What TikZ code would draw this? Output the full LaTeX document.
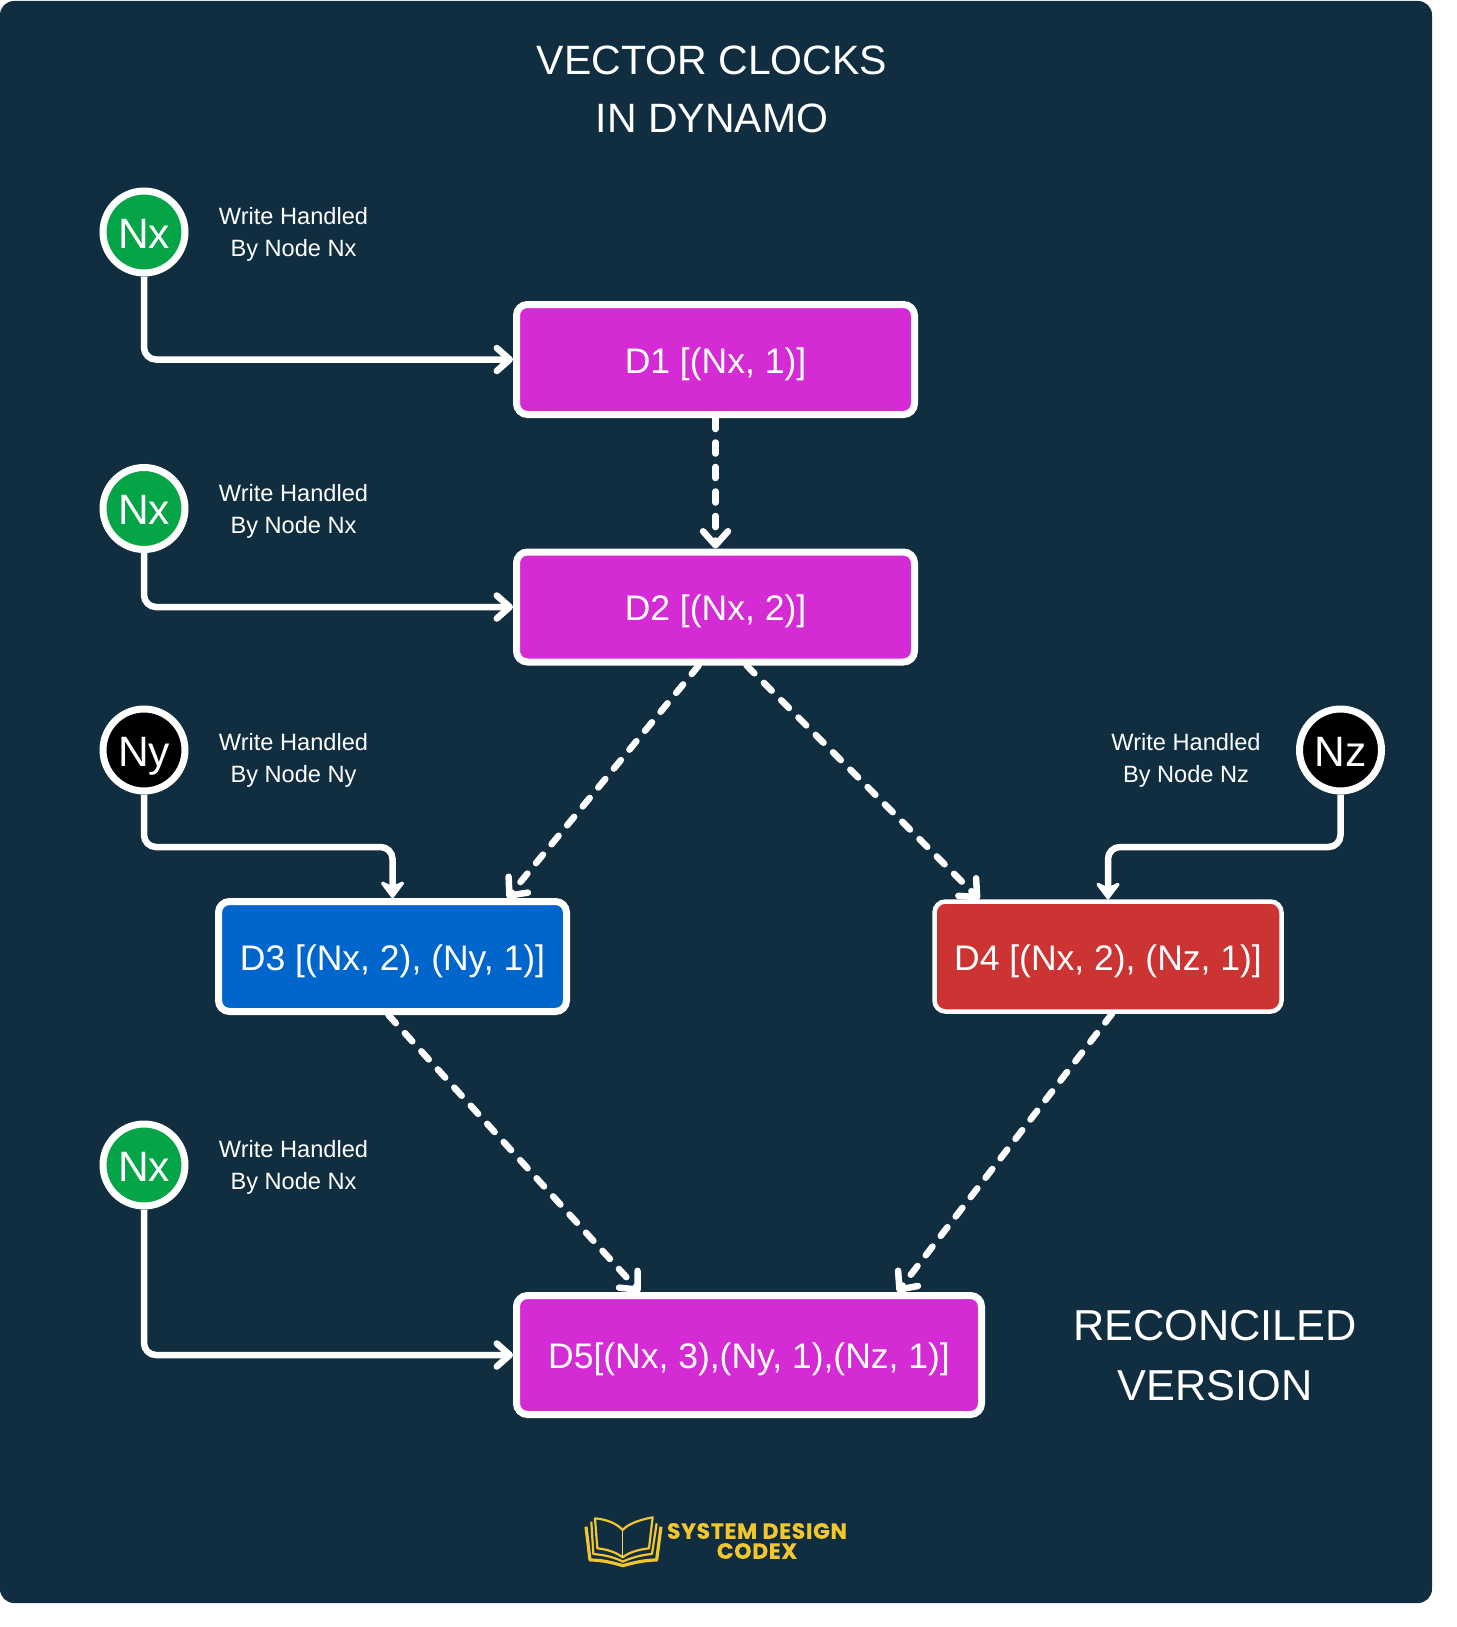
\documentclass[tikz,border=0pt]{standalone}
\usepackage{fontspec}
\setmainfont{Liberation Sans}
\newfontfamily\logofont{Poppins}[LetterSpace=3,BoldFeatures={FakeBold=0.4}]
\usetikzlibrary{arrows.meta}
\definecolor{panelbg}{HTML}{112E41}
\definecolor{writegreen}{HTML}{05A547}
\definecolor{dmagenta}{HTML}{D42BD4}
\definecolor{dblue}{HTML}{0066CC}
\definecolor{dred}{HTML}{CC3333}
\definecolor{logogold}{HTML}{F2C62E}
\tikzset{
	txt/.style={text=white, inner sep=0pt, align=center},
	headtxt/.style={txt, font=\fontsize{41}{58}\selectfont},
	writetxt/.style={txt, font=\fontsize{23.6}{32}\selectfont},
	server/.style={circle, draw=white, line width=7pt, inner sep=0pt, minimum size=82pt, text=white,
		text height=32pt, text depth=0pt, font=\fontsize{42.5}{42}\selectfont},
	version/.style={rectangle, rounded corners=11pt, draw=white, line width=7pt, inner sep=0pt, text=white,
		minimum width=398pt, minimum height=110pt, text height=27pt, text depth=0pt, font=\fontsize{35.5}{35}\selectfont},
	write/.style={draw=white, line width=6.5pt, rounded corners=12pt, -{Straight Barb[length=13pt,width=23pt,round]}},
	writedown/.style={draw=white, line width=6.5pt, rounded corners=12pt, -{Stealth[length=20pt,width=30pt,inset=7pt,round]}},
	flow/.style={draw=white, line width=6.5pt, line cap=round, dash pattern=on 11pt off 13.5pt, -{Straight Barb[length=14pt,width=25pt,round]}},
}
\begin{document}
\begin{tikzpicture}[x=1pt, y=-1pt]
	\useasboundingbox (0,0) rectangle (1456,1627);
	\fill[panelbg, rounded corners=14pt] (0,1) rectangle (1432,1603);

	\node[headtxt] (title) at (712,89) {VECTOR CLOCKS\\IN DYNAMO};

	% the versions
	\node[version, fill=dmagenta] (done) at (715.5,359.5) {D1 [(Nx, 1)]};
	\node[version, fill=dmagenta] (dtwo) at (715.5,607) {D2 [(Nx, 2)]};
	\node[version, fill=dblue, minimum width=348pt] (dthree) at (392.5,956.5) {D3 [(Nx, 2), (Ny, 1)]};
	\node[version, fill=dred, line width=4.5pt, minimum width=347pt] (dfour) at (1108,956.5) {D4 [(Nx, 2), (Nz, 1)]};
	\node[version, fill=dmagenta, minimum width=465pt, minimum height=119pt] (dfive) at (749,1355) {D5[(Nx, 3),(Ny, 1),(Nz, 1)]};

	\node[headtxt, font=\fontsize{43.3}{60}\selectfont] (reconciled) at (1215,1355.5) {RECONCILED\\VERSION};

	% the nodes that handle the writes
	\node[server, fill=writegreen] (nxa) at (144,232) {Nx};
	\node[server, fill=writegreen] (nxb) at (144,508.5) {Nx};
	\node[server, fill=black] (ny) at (144,750) {Ny};
	\node[server, fill=black] (nz) at (1340.5,750) {Nz};
	\node[server, fill=writegreen] (nxc) at (144,1165) {Nx};

	\node[writetxt] (writea) at (293.5,234.5) {Write Handled\\By Node Nx};
	\node[writetxt] (writeb) at (293.5,511.5) {Write Handled\\By Node Nx};
	\node[writetxt] (writec) at (293.5,760.5) {Write Handled\\By Node Ny};
	\node[writetxt] (writed) at (1186,760.5) {Write Handled\\By Node Nz};
	\node[writetxt] (writee) at (293.5,1167) {Write Handled\\By Node Nx};

	\coordinate (nyturn) at (300,847);
	\coordinate (nzturn) at (1200,847);

	\draw[write] (nxa.south) |- (done.west);
	\draw[write] (nxb.south) |- (dtwo.west);
	\draw[writedown] (ny.south) |- (nyturn) -| (dthree.north);
	\draw[writedown] (nz.south) |- (nzturn) -| (dfour.north);
	\draw[write] (nxc.south) |- (dfive.west);

	\draw[flow] (done.south) -- (dtwo.north);
	\draw[flow] (dtwo.254) -- (dthree.27);
	\draw[flow] (dtwo.298) -- (dfour.156);
	\draw[flow] (dthree.266) -- (dfive.150.5);
	\draw[flow] (dfour.274) -- (dfive.23);

	% the logo
	\begin{scope}[shift={(500,1480)}, x=0.3333pt, y=-0.3333pt, logogold, line join=round]
		\draw[line width=2.2pt] (285,115) .. controls (320,118) and (350,130) .. (368,150) .. controls (385,130) and (425,118) .. (458,112) -- (447,205) .. controls (420,208) and (390,215) .. (368,232) .. controls (345,215) and (320,208) .. (292,205) -- cycle;
		\draw[line width=1.4pt, logogold!70!white] (368,150) -- (368,232);
		\draw[line width=2.2pt] (274,125) -- (280,222) .. controls (320,225) and (350,235) .. (368,245) .. controls (390,235) and (420,225) .. (456,222) -- (470,130);
		\draw[line width=3.2pt] (258,140) -- (270,240) .. controls (310,240) and (345,250) .. (368,257) .. controls (395,250) and (430,240) .. (470,240) -- (483,140);
	\end{scope}
	\node[text=logogold, inner sep=0pt, align=center, font=\logofont\bfseries\fontsize{22}{20}\selectfont] (logotxt) at (757,1541) {SYSTEM DESIGN\\CODEX};
\end{tikzpicture}
\end{document}
